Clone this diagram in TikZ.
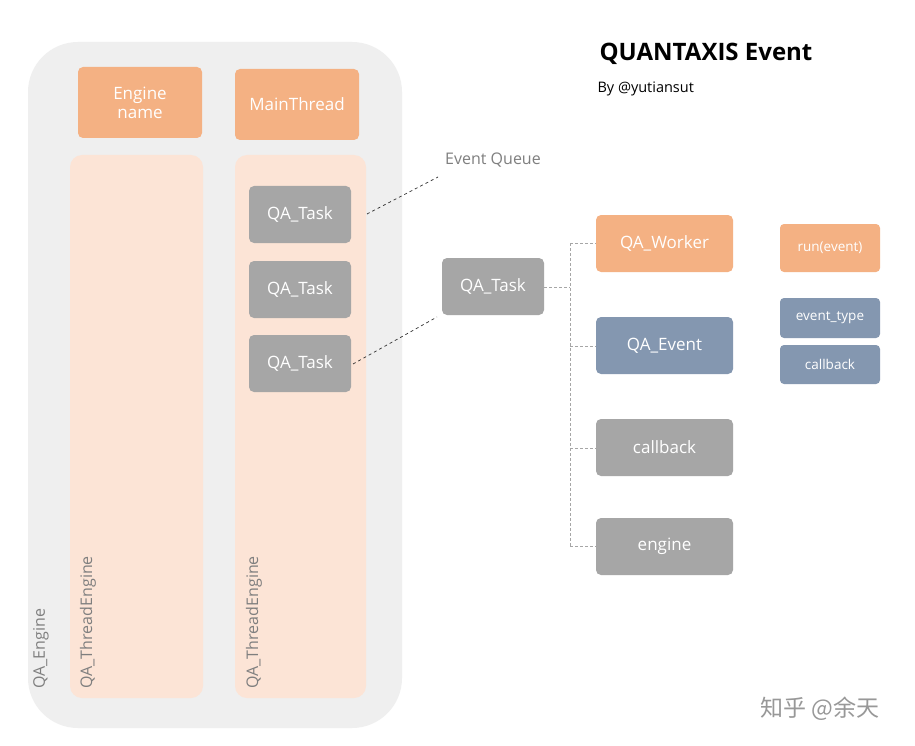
\documentclass[tikz,border=0pt]{standalone}
\usepackage{fontspec}
\setmainfont{Open Sans}
\newfontfamily\cjk{Noto Sans CJK SC}
\definecolor{og}{HTML}{F4B183}
\definecolor{pc}{HTML}{FCE4D6}
\definecolor{gb}{HTML}{A6A6A6}
\definecolor{bb}{HTML}{8497B0}
\definecolor{bgg}{HTML}{EFEFEF}
\definecolor{tx}{HTML}{7F7F7F}
\begin{document}
\begin{tikzpicture}[x=1pt,y=-1pt,
 box/.style={rounded corners=5pt,text=white,font=\fontsize{17}{20}\selectfont,align=center},
 sbox/.style={rounded corners=4pt,text=white,font=\fontsize{13.5}{16}\selectfont,align=center},
 dl/.style={dashed,black!80,line width=0.7pt},
 tl/.style={densely dashed,gb,line width=0.7pt},
 rot/.style={rotate=90,anchor=west,text=tx,font=\fontsize{16}{18}\selectfont}]
\useasboundingbox (0,0) rectangle (915,746);
\fill[white] (0,0) rectangle (915,746);
\fill[bgg,rounded corners=50pt] (28,42) rectangle (402,728);
\fill[pc,rounded corners=12pt] (70,155) rectangle (203,698);
\fill[pc,rounded corners=12pt] (235,155) rectangle (366,698);
\path[box,fill=og] (78,67) rectangle node(en){Engine\\[-1pt]name} (202,138);
\path[box,fill=og] (235,69) rectangle node(mt){MainThread} (359,140);
\path[box,fill=gb] (249,186) rectangle node(t1){QA\_Task} (351,243);
\path[box,fill=gb] (249,261) rectangle node(t2){QA\_Task} (351,318);
\path[box,fill=gb] (249,335) rectangle node(t3){QA\_Task} (351,392);
\node[rot] (le) at (41,692) {QA\_Engine};
\node[rot] (l1) at (88,692) {QA\_ThreadEngine};
\node[rot] (l2) at (254,692) {QA\_ThreadEngine};
\node[text=tx,font=\fontsize{16}{18}\selectfont] (eq) at (493,160) {Event Queue};
\coordinate (q1) at (438,177);
\coordinate (q2) at (437,317);
\coordinate (a1) at (367,214);
\coordinate (a2) at (353,364);
\draw[dl] (a1) -- (q1);
\draw[dl] (a2) -- (q2);
\path[box,fill=gb] (442,258) rectangle node(mt2){QA\_Task} (544,315);
\path[box,fill=og] (596,215) rectangle node(w){QA\_Worker} (733,272);
\path[box,fill=bb] (596,317) rectangle node(e){QA\_Event} (733,374);
\path[box,fill=gb] (596,419) rectangle node(c){callback} (733,476);
\path[box,fill=gb] (596,518) rectangle node(g){engine} (733,575);
\coordinate (m0) at (544,287);
\coordinate (w0) at (596,243);
\coordinate (e0) at (596,346);
\coordinate (c0) at (596,448);
\coordinate (g0) at (596,546);
\draw[tl] (m0) -- (570,287);
\draw[tl] (570,243) -- (570,546);
\draw[tl] (570,243) -- (w0);
\draw[tl] (570,346) -- (e0);
\draw[tl] (570,448) -- (c0);
\draw[tl] (570,546) -- (g0);
\path[sbox,fill=og] (780,224) rectangle node(r){run(event)} (880,272);
\path[sbox,fill=bb] (780,298) rectangle node(et){event\_type} (880,338);
\path[sbox,fill=bb] (780,345) rectangle node(cb){callback} (880,384);
\node[font=\bfseries\fontsize{24}{28}\selectfont] (ti) at (706,54) {QUANTAXIS Event};
\node[font=\fontsize{14.5}{17}\selectfont,anchor=west] (by) at (594,89) {By @yutiansut};
\node[text=tx!80,font=\cjk\fontsize{23}{26}\selectfont] (wm) at (820,709) {知乎 @余天};
\end{tikzpicture}
\end{document}
